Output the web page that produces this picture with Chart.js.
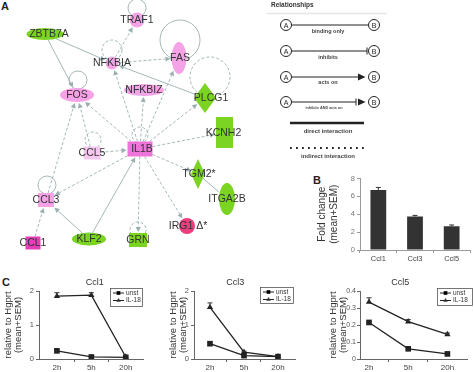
<!DOCTYPE html>
<html>
<head>
<meta charset="utf-8">
<script src="https://cdn.jsdelivr.net/npm/chart.js@4.4.1/dist/chart.umd.min.js"></script>
<style>
html, body { margin: 0; padding: 0; background: #fff; }
body { width: 474px; height: 372px; position: relative; overflow: hidden; font-family: "Liberation Sans", Arial, sans-serif; }
canvas, svg, .lbl { position: absolute; }
.lbl { font-weight: bold; font-size: 11px; color: #222; line-height: 12px; }
</style>
</head>
<body>
<div class="lbl" style="left:1px;top:0px">A</div>
<div class="lbl" style="left:313px;top:174px">B</div>
<div class="lbl" style="left:2px;top:276px">C</div>

<canvas id="net" width="268" height="268" style="left:0;top:0"></canvas>

<svg style="left:262px;top:0" width="130" height="165" viewBox="262 0 130 165" font-family="Liberation Sans, Arial, sans-serif">
  <text x="271" y="5" font-size="6.5" font-weight="bold" fill="#333" dominant-baseline="middle">Relationships</text>
  <line x1="267" y1="13.5" x2="387" y2="13.5" stroke="#e6e6e6" stroke-width="1.5"/>
  <g stroke="#222" stroke-width="1" fill="#fff">
    <circle cx="286" cy="25" r="5.5"/><circle cx="374" cy="25" r="5.5"/>
    <circle cx="286" cy="51" r="5.5"/><circle cx="374" cy="51" r="5.5"/>
    <circle cx="286" cy="77" r="5.5"/><circle cx="374" cy="77" r="5.5"/>
    <circle cx="286" cy="102" r="5.5"/><circle cx="374" cy="102" r="5.5"/>
    <line x1="291.5" y1="25" x2="368.5" y2="25"/>
    <line x1="291.5" y1="51" x2="367" y2="51"/>
    <line x1="367" y1="47.5" x2="367" y2="54.5"/>
    <line x1="291.5" y1="77" x2="360" y2="77"/>
    <line x1="291.5" y1="102" x2="356" y2="102"/>
    <line x1="356" y1="98.5" x2="356" y2="105.5"/>
  </g>
  <g fill="#222">
    <path d="M358 73.5 L365.5 77 L358 80.5 Z"/>
    <path d="M358 98.5 L365.5 102 L358 105.5 Z"/>
  </g>
  <g font-size="7" fill="#222" text-anchor="middle" dominant-baseline="central">
    <text x="286" y="25.3">A</text><text x="374" y="25.3">B</text>
    <text x="286" y="51.3">A</text><text x="374" y="51.3">B</text>
    <text x="286" y="77.3">A</text><text x="374" y="77.3">B</text>
    <text x="286" y="102.3">A</text><text x="374" y="102.3">B</text>
  </g>
  <g font-size="5.5" font-weight="bold" fill="#444" text-anchor="middle" dominant-baseline="middle">
    <text x="328" y="32">binding only</text>
    <text x="328" y="58">inhibits</text>
    <text x="328" y="83">acts on</text>
    <text x="324" y="108" font-size="3.8">inhibits AND acts on</text>
    <text x="328" y="131" font-size="6">direct interaction</text>
    <text x="328" y="156" font-size="6">indirect interaction</text>
  </g>
  <line x1="290" y1="123" x2="364" y2="123" stroke="#222" stroke-width="2.5"/>
  <line x1="290" y1="148" x2="364" y2="148" stroke="#222" stroke-width="1.8" stroke-dasharray="1.8 4.2"/>
</svg>

<canvas id="bar" width="160" height="92" style="left:314px;top:172px"></canvas>
<canvas id="c1" width="148" height="96" style="left:0;top:276px"></canvas>
<canvas id="c2" width="135" height="96" style="left:165px;top:276px"></canvas>
<canvas id="c3" width="146" height="96" style="left:328px;top:276px"></canvas>

<script>
Chart.defaults.font.family = '"Liberation Sans", Arial, sans-serif';
Chart.defaults.color = '#444';

// ----------------- Data -----------------
// network (A): node layout
const nodeNames = ['ZBTB7A', 'TRAF1', 'NFKBIA', 'FAS', 'FOS', 'NFKBIZ', 'PLCG1', 'KCNH2', 'CCL5',
  'IL1B', 'TGM2*', 'ITGA2B', 'CCL3', 'IRG1 Δ*', 'CCL1', 'KLF2', 'GRN'];
const nodeX = [45, 137, 112, 179, 77, 144, 205, 224.5, 92, 140, 198, 227, 46, 187, 33, 89, 138];
const nodeY = [34, 20, 63, 58, 95, 90, 98, 132.5, 153, 149, 174, 199, 200, 226, 243, 239, 240];
const edges = [
  ['ZBTB7A', 'FOS', 'direct', 'acts'],
  ['ZBTB7A', 'NFKBIA', 'direct', 'acts'],
  ['NFKBIA', 'TRAF1', 'indirect', 'acts'],
  ['NFKBIA', 'FAS', 'indirect', 'acts'],
  ['PLCG1', 'NFKBIA', 'direct', 'acts'],
  ['IL1B', 'NFKBIA', 'indirect', 'acts'],
  ['IL1B', 'FAS', 'indirect', 'acts'],
  ['IL1B', 'PLCG1', 'indirect', 'acts'],
  ['IL1B', 'FOS', 'indirect', 'acts'],
  ['IL1B', 'KCNH2', 'indirect', 'acts'],
  ['IL1B', 'TGM2*', 'indirect', 'acts'],
  ['IL1B', 'NFKBIZ', 'indirect', 'acts'],
  ['CCL5', 'IL1B', 'indirect', 'acts'],
  ['CCL5', 'FOS', 'indirect', 'acts'],
  ['CCL3', 'FOS', 'indirect', 'acts'],
  ['IL1B', 'CCL3', 'indirect', 'acts'],
  ['KLF2', 'CCL3', 'direct', 'acts'],
  ['KLF2', 'IL1B', 'direct', 'acts'],
  ['IL1B', 'GRN', 'indirect', 'acts'],
  ['IL1B', 'IRG1 Δ*', 'indirect', 'acts'],
  ['CCL1', 'CCL3', 'indirect', 'acts'],
  ['TGM2*', 'ITGA2B', 'direct', 'binds']
];
const selfLoops = [['TRAF1', 'direct'], ['NFKBIA', 'indirect'], ['FAS', 'direct'], ['FOS', 'direct'],
  ['PLCG1', 'indirect'], ['CCL5', 'indirect'], ['IL1B', 'indirect'], ['CCL3', 'direct'], ['GRN', 'indirect']];

// fold change (B)
const foldLabels = ['Ccl1', 'Ccl3', 'Ccl5'];
const foldValues = [6.7, 3.75, 2.65];
const foldErrors = [0.3, 0.12, 0.15];

// time course (C)
const timeLabels = ['2h', '5h', '20h'];
const seriesNames = ['unst', 'IL-18'];
const ccl1Unst = [0.24, 0.06, 0.05];
const ccl1Il18 = [1.85, 1.88, 0.06];
const ccl1Il18Err = [0.1, 0.07, 0];
const ccl3Unst = [0.45, 0.1, 0.07];
const ccl3Il18 = [1.52, 0.2, 0.07];
const ccl3Il18Err = [0.13, 0.03, 0];
const ccl5Unst = [0.215, 0.06, 0.03];
const ccl5Il18 = [0.335, 0.22, 0.145];
const ccl5Il18Err = [0.025, 0.012, 0.008];

// ----------------- Network styling -----------------
const GREEN = '#7bd322', PINK = '#f5a3e6', HOT = '#ef74da', LIGHT = '#f7c8ef', MAG = '#e43fb9', RED = '#ee3d7d';
const EDGE = '#9ab0b0';
const nodeStyle = {
  'ZBTB7A': { shape: 'ellipse', w: 37, h: 12, fill: GREEN, dx: 4 },
  'TRAF1': { shape: 'ellipse', w: 15, h: 15, fill: PINK, loop: [9, 0, -12] },
  'NFKBIA': { shape: 'ellipse', w: 13, h: 13, fill: PINK, loop: [10, 0, -13] },
  'FAS': { shape: 'ellipse', w: 15, h: 32, fill: PINK, dx: 1, loop: [20, 1, -18] },
  'FOS': { shape: 'ellipse', w: 34, h: 14, fill: PINK, loop: [9, 1, -15] },
  'NFKBIZ': { shape: 'ellipse', w: 40, h: 12, fill: PINK },
  'PLCG1': { shape: 'diamond', w: 22, h: 30, fill: GREEN, dx: 6, loop: [20, 5, -21] },
  'KCNH2': { shape: 'rect', w: 17, h: 31, fill: GREEN, dx: -1 },
  'CCL5': { shape: 'rect', w: 17, h: 13, fill: LIGHT, loop: [8, 1, -13] },
  'IL1B': { shape: 'rect', w: 25, h: 15, fill: HOT, dx: 2, loop: [8, 0, -14] },
  'TGM2*': { shape: 'diamond', w: 14, h: 30, fill: GREEN, dx: 1 },
  'ITGA2B': { shape: 'ellipse', w: 16, h: 32, fill: GREEN },
  'CCL3': { shape: 'rect', w: 16, h: 14, fill: PINK, loop: [9, 1, -15] },
  'IRG1 Δ*': { shape: 'ellipse', w: 16, h: 16, fill: RED, dx: 1 },
  'CCL1': { shape: 'rect', w: 15, h: 13, fill: MAG },
  'KLF2': { shape: 'ellipse', w: 34, h: 13, fill: GREEN },
  'GRN': { shape: 'rect', w: 18, h: 14, fill: GREEN, loop: [8, 0, -10] }
};

// distance from a node centre to its outline along direction (ux, uy)
function reach(st, ux, uy) {
  const a = st.w / 2, b = st.h / 2;
  if (st.shape === 'rect') return Math.min(Math.abs(ux) > 1e-6 ? a / Math.abs(ux) : Infinity, Math.abs(uy) > 1e-6 ? b / Math.abs(uy) : Infinity);
  if (st.shape === 'diamond') return 1 / (Math.abs(ux) / a + Math.abs(uy) / b);
  return 1 / Math.sqrt((ux / a) ** 2 + (uy / b) ** 2);
}

const networkPlugin = {
  id: 'network',
  afterDatasetsDraw(chart) {
    const { ctx, scales: { x, y } } = chart;
    const pos = name => {
      const i = nodeNames.indexOf(name);
      return [x.getPixelForValue(nodeX[i]), y.getPixelForValue(nodeY[i])];
    };
    ctx.save();
    ctx.strokeStyle = EDGE;
    ctx.fillStyle = EDGE;
    ctx.lineWidth = 0.9;

    selfLoops.forEach(([name, kind]) => {
      const [px, py] = pos(name);
      const [r, lx, ly] = nodeStyle[name].loop;
      ctx.setLineDash(kind === 'indirect' ? [3, 2] : []);
      ctx.beginPath();
      ctx.arc(px + lx, py + ly, r, 0, Math.PI * 2);
      ctx.stroke();
    });

    edges.forEach(([a, b, kind, rel]) => {
      const [x1, y1] = pos(a), [x2, y2] = pos(b);
      const len = Math.hypot(x2 - x1, y2 - y1), ux = (x2 - x1) / len, uy = (y2 - y1) / len;
      const s1 = reach(nodeStyle[a], ux, uy), s2 = reach(nodeStyle[b], ux, uy) + 1;
      const ex = x2 - ux * s2, ey = y2 - uy * s2;
      const head = rel === 'acts' ? 5 : 0;
      ctx.setLineDash(kind === 'indirect' ? [3, 2] : []);
      ctx.beginPath();
      ctx.moveTo(x1 + ux * s1, y1 + uy * s1);
      ctx.lineTo(ex - ux * head, ey - uy * head);
      ctx.stroke();
      if (head) {
        ctx.setLineDash([]);
        ctx.beginPath();
        ctx.moveTo(ex, ey);
        ctx.lineTo(ex - ux * head - uy * 2.6, ey - uy * head + ux * 2.6);
        ctx.lineTo(ex - ux * head + uy * 2.6, ey - uy * head - ux * 2.6);
        ctx.closePath();
        ctx.fill();
      }
    });

    ctx.setLineDash([]);
    nodeNames.forEach(name => {
      const [px, py] = pos(name), st = nodeStyle[name];
      ctx.fillStyle = st.fill;
      ctx.beginPath();
      if (st.shape === 'rect') ctx.rect(px - st.w / 2, py - st.h / 2, st.w, st.h);
      else if (st.shape === 'diamond') {
        ctx.moveTo(px, py - st.h / 2); ctx.lineTo(px + st.w / 2, py);
        ctx.lineTo(px, py + st.h / 2); ctx.lineTo(px - st.w / 2, py); ctx.closePath();
      } else ctx.ellipse(px, py, st.w / 2, st.h / 2, 0, 0, Math.PI * 2);
      ctx.fill();
    });

    ctx.fillStyle = '#333';
    ctx.font = '10.5px "Liberation Sans", Arial, sans-serif';
    ctx.textAlign = 'center';
    ctx.textBaseline = 'middle';
    nodeNames.forEach(name => {
      const [px, py] = pos(name);
      ctx.fillText(name, px + (nodeStyle[name].dx || 0), py + 0.5);
    });
    ctx.restore();
  }
};

new Chart(document.getElementById('net'), {
  type: 'scatter',
  data: { datasets: [{ data: nodeNames.map((n, i) => ({ x: nodeX[i], y: nodeY[i] })), pointRadius: 0 }] },
  options: {
    responsive: false, animation: false, events: [],
    layout: { padding: 0 },
    plugins: { legend: { display: false }, tooltip: { enabled: false } },
    scales: {
      x: { type: 'linear', min: 0, max: 268, display: false },
      y: { type: 'linear', min: 0, max: 268, reverse: true, display: false }
    }
  },
  plugins: [networkPlugin]
});

// ----------------- Shared plugins -----------------
const errorBarPlugin = {
  id: 'errorBars',
  afterDatasetsDraw(chart) {
    const { ctx } = chart, ys = chart.scales.y;
    chart.data.datasets.forEach((ds, di) => {
      if (!ds.errors) return;
      chart.getDatasetMeta(di).data.forEach((el, i) => {
        const err = ds.errors[i];
        if (!err) return;
        const v = typeof ds.data[i] === 'object' ? ds.data[i].y : ds.data[i];
        const top = ys.getPixelForValue(v + err);
        ctx.save();
        ctx.strokeStyle = '#333';
        ctx.lineWidth = 1;
        ctx.beginPath();
        ctx.moveTo(el.x, el.y); ctx.lineTo(el.x, top);
        ctx.moveTo(el.x - 2.5, top); ctx.lineTo(el.x + 2.5, top);
        ctx.stroke();
        ctx.restore();
      });
    });
  }
};

const panelTitlePlugin = {
  id: 'panelTitle',
  afterDraw(chart, args, opts) {
    const { ctx, chartArea } = chart;
    ctx.save();
    ctx.fillStyle = '#333';
    ctx.font = '9px "Liberation Sans", Arial, sans-serif';
    ctx.textAlign = 'center';
    ctx.textBaseline = 'middle';
    ctx.fillText(opts.text, chart.scales.x.getPixelForValue(opts.at), chartArea.top - 8);
    ctx.restore();
  }
};

const boxLegendPlugin = {
  id: 'boxLegend',
  afterDraw(chart, args, opts) {
    const { ctx } = chart;
    const [lx, ly, w, h] = opts.box;
    ctx.save();
    ctx.strokeStyle = '#555';
    ctx.lineWidth = 0.8;
    ctx.strokeRect(lx + 0.5, ly + 0.5, w, h);
    ctx.font = '6.5px "Liberation Sans", Arial, sans-serif';
    ctx.textBaseline = 'middle';
    chart.data.datasets.forEach((ds, i) => {
      const ry = ly + 5 + i * 7.5;
      ctx.strokeStyle = '#222';
      ctx.lineWidth = 1;
      ctx.beginPath(); ctx.moveTo(lx + 3, ry); ctx.lineTo(lx + 14, ry); ctx.stroke();
      Chart.helpers.drawPoint(ctx, { pointStyle: ds.pointStyle, radius: 2.6, borderWidth: 0 }, lx + 8.5, ry);
      ctx.fillStyle = '#333';
      ctx.fillText(ds.label, lx + 16, ry);
    });
    ctx.restore();
  }
};

// ----------------- Bar chart (B) -----------------
new Chart(document.getElementById('bar'), {
  type: 'bar',
  data: {
    labels: foldLabels,
    datasets: [{ data: foldValues, errors: foldErrors, backgroundColor: '#333', barPercentage: 0.43, categoryPercentage: 1 }]
  },
  options: {
    responsive: false, animation: false, events: [],
    layout: { padding: { top: 5, right: 4, left: 0, bottom: 0 } },
    plugins: { legend: { display: false }, tooltip: { enabled: false } },
    scales: {
      x: {
        grid: { drawOnChartArea: false, tickLength: 3, color: '#999' },
        border: { color: '#999' },
        ticks: { font: { size: 7.5 }, color: '#444', padding: 1 },
        afterFit: s => { s.height = 14; }
      },
      y: {
        min: 0, max: 8,
        ticks: { stepSize: 1, font: { size: 7.5 }, color: '#777', padding: 2 },
        grid: { drawOnChartArea: false, tickLength: 3, color: '#999' },
        border: { color: '#999' },
        title: { display: true, text: ['Fold change', '(mean+SEM)'], font: { size: 10, lineHeight: 1.2 }, color: '#333', padding: { top: 2, bottom: 0 } },
        afterFit: s => { s.width = 46; }
      }
    }
  },
  plugins: [errorBarPlugin]
});

// ----------------- Line charts (C) -----------------
function timeChart(id, title, unst, il18, il18Err, o) {
  const pts = vals => timeLabels.map((t, i) => ({ x: i, y: vals[i] }));
  new Chart(document.getElementById(id), {
    type: 'line',
    data: {
      datasets: [
        { label: seriesNames[0], data: pts(unst), pointStyle: 'rect', pointRadius: 4, borderColor: '#222', backgroundColor: '#222', borderWidth: 1.3, pointBorderWidth: 0 },
        { label: seriesNames[1], data: pts(il18), errors: il18Err, pointStyle: 'triangle', pointRadius: 3.6, borderColor: '#222', backgroundColor: '#222', borderWidth: 1.3, pointBorderWidth: 0 }
      ]
    },
    options: {
      responsive: false, animation: false, events: [],
      layout: { padding: { top: 15, right: o.padRight, left: 0, bottom: 0 } },
      plugins: {
        legend: { display: false }, tooltip: { enabled: false },
        panelTitle: { text: title, at: o.titleAt },
        boxLegend: { box: o.legendBox }
      },
      scales: {
        x: {
          type: 'linear', min: o.xMin, max: 2.5,
          afterBuildTicks: s => { s.ticks = [0, 0.5, 1, 1.5, 2].map(v => ({ value: v })); },
          ticks: { autoSkip: false, maxRotation: 0, font: { size: 8 }, color: '#444', padding: 1,
            callback: v => Number.isInteger(v) ? timeLabels[v] : '' },
          grid: { drawOnChartArea: false, tickLength: 3, color: c => Number.isInteger(c.tick && c.tick.value) ? 'rgba(0,0,0,0)' : '#666' },
          border: { color: '#666' },
          afterFit: s => { s.height = 13; }
        },
        y: {
          min: 0, max: o.yMax,
          ticks: { stepSize: o.yStep, font: { size: o.tickSize }, color: '#555', padding: o.tickPad },
          grid: { drawOnChartArea: false, tickLength: 3, color: '#666' },
          border: { color: '#666' },
          title: { display: true, text: ['relative to Hgprt', '(mean+SEM)'], font: { size: 9.5, lineHeight: 1.05 }, color: '#333', padding: { top: o.titlePad, bottom: 0 } },
          afterFit: s => { s.width = o.yWidth; }
        }
      }
    },
    plugins: [errorBarPlugin, panelTitlePlugin, boxLegendPlugin]
  });
}

timeChart('c1', 'Ccl1', ccl1Unst, ccl1Il18, ccl1Il18Err,
  { xMin: -0.52, yMax: 2, yStep: 1, yWidth: 39, padRight: 5, titlePad: 3.5, tickSize: 7.5, tickPad: 2, titleAt: 1.1, legendBox: [110, 12, 32, 18] });
timeChart('c2', 'Ccl3', ccl3Unst, ccl3Il18, ccl3Il18Err,
  { xMin: -0.47, yMax: 2, yStep: 1, yWidth: 29, padRight: 5, titlePad: 3.5, tickSize: 7.5, tickPad: 2, titleAt: 0.74, legendBox: [95, 11, 33, 16] });
timeChart('c3', 'Ccl5', ccl5Unst, ccl5Il18, ccl5Il18Err,
  { xMin: -0.23, yMax: 0.4, yStep: 0.1, yWidth: 32, padRight: 7, titlePad: 0.5, tickSize: 7, tickPad: 1, titleAt: 0.8, legendBox: [109, 12, 35, 17] });
</script>
</body>
</html>
